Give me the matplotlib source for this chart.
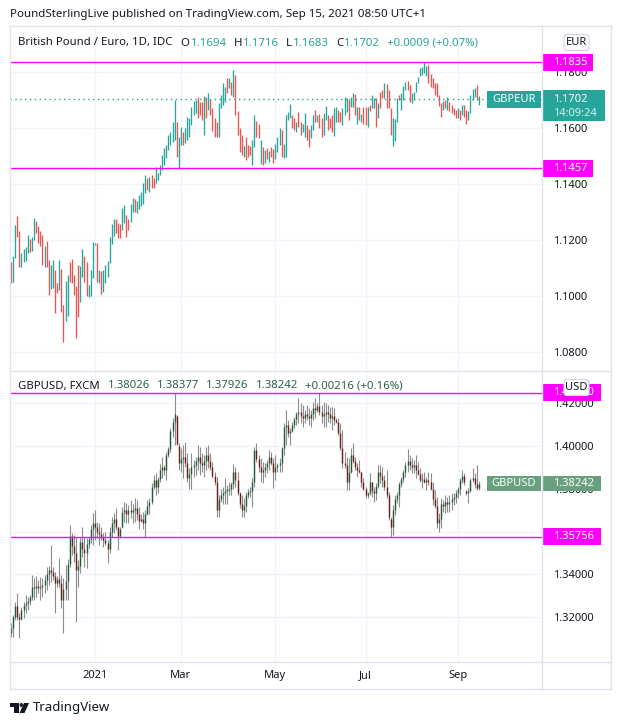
import numpy as np
import pandas as pd
import matplotlib
matplotlib.use('Agg')
import matplotlib.pyplot as plt
import matplotlib.transforms as mtransforms
from matplotlib.patches import Rectangle, FancyBboxPatch, Polygon, Circle
from matplotlib.lines import Line2D

plt.rcParams['font.family'] = ['Noto Sans', 'DejaVu Sans']

# daily bars, Nov 6 2020 .. Sep 15 2021
dates = pd.bdate_range('2020-11-06', periods=224)

# GBP/EUR (IDC) - bar highs / lows, 'u' = closed up, 'd' = closed down
eur_high = [
    1.1123, 1.1143, 1.1254, 1.1287, 1.1232, 1.1155, 1.1168, 1.1176, 1.1218, 1.1204,
    1.1212, 1.1278, 1.1268, 1.1250, 1.1232, 1.1218, 1.1180, 1.1197, 1.1129, 1.1111,
    1.1129, 1.1093, 1.1045, 1.1129, 1.1097, 1.0968, 1.1054, 1.1075, 1.1120, 1.1132,
    1.1075, 1.1036, 1.1111, 1.1107, 1.1168, 1.1144, 1.1123, 1.1040, 1.1093, 1.1192,
    1.1191, 1.1188, 1.1093, 1.1091, 1.1093, 1.1111, 1.1125, 1.1212, 1.1257, 1.1274,
    1.1274, 1.1260, 1.1257, 1.1313, 1.1325, 1.1289, 1.1275, 1.1330, 1.1349, 1.1345,
    1.1340, 1.1361, 1.1373, 1.1403, 1.1432, 1.1421, 1.1426, 1.1432, 1.1421, 1.1462,
    1.1438, 1.1468, 1.1504, 1.1528, 1.1540, 1.1575, 1.1587, 1.1623, 1.1700, 1.1623,
    1.1569, 1.1605, 1.1584, 1.1599, 1.1638, 1.1635, 1.1676, 1.1698, 1.1700, 1.1710,
    1.1694, 1.1694, 1.1714, 1.1710, 1.1724, 1.1703, 1.1670, 1.1635, 1.1623, 1.1688,
    1.1718, 1.1760, 1.1748, 1.1778, 1.1778, 1.1766, 1.1807, 1.1789, 1.1659, 1.1599,
    1.1575, 1.1534, 1.1569, 1.1540, 1.1536, 1.1557, 1.1646, 1.1625, 1.1614, 1.1557,
    1.1533, 1.1521, 1.1530, 1.1518, 1.1533, 1.1525, 1.1543, 1.1569, 1.1601, 1.1593,
    1.1543, 1.1646, 1.1658, 1.1684, 1.1646, 1.1637, 1.1620, 1.1656, 1.1622, 1.1616,
    1.1652, 1.1610, 1.1596, 1.1610, 1.1646, 1.1664, 1.1646, 1.1649, 1.1634, 1.1652,
    1.1678, 1.1646, 1.1634, 1.1646, 1.1670, 1.1674, 1.1664, 1.1658, 1.1670, 1.1712,
    1.1706, 1.1703, 1.1712, 1.1724, 1.1720, 1.1676, 1.1676, 1.1649, 1.1676, 1.1676,
    1.1676, 1.1682, 1.1718, 1.1706, 1.1706, 1.1688, 1.1730, 1.1736, 1.1760, 1.1756,
    1.1736, 1.1671, 1.1635, 1.1633, 1.1706, 1.1718, 1.1724, 1.1750, 1.1766, 1.1768,
    1.1754, 1.1724, 1.1730, 1.1766, 1.1781, 1.1813, 1.1819, 1.1835, 1.1822, 1.1825,
    1.1792, 1.1778, 1.1760, 1.1760, 1.1718, 1.1688, 1.1697, 1.1700, 1.1709, 1.1694,
    1.1682, 1.1673, 1.1665, 1.1671, 1.1665, 1.1682, 1.1682, 1.1665, 1.1661, 1.1718,
    1.1738, 1.1742, 1.1754, 1.1716]
eur_low = [
    1.1045, 1.1051, 1.1135, 1.1212, 1.1105, 1.1105, 1.1123, 1.1125, 1.1153, 1.1156,
    1.1159, 1.1200, 1.1224, 1.1188, 1.1180, 1.1111, 1.1105, 1.1105, 1.1004, 1.1025,
    1.1028, 1.0941, 1.1012, 1.1022, 1.0944, 1.0834, 1.0912, 1.0929, 1.1049, 1.1048,
    1.1004, 1.0849, 1.0926, 1.0980, 1.1069, 1.1051, 1.1000, 1.0998, 1.1001, 1.1066,
    1.1182, 1.1049, 1.1045, 1.1006, 1.1016, 1.1048, 1.1067, 1.1117, 1.1185, 1.1214,
    1.1226, 1.1206, 1.1206, 1.1236, 1.1262, 1.1212, 1.1236, 1.1265, 1.1300, 1.1300,
    1.1295, 1.1310, 1.1320, 1.1330, 1.1367, 1.1379, 1.1373, 1.1385, 1.1385, 1.1403,
    1.1415, 1.1432, 1.1450, 1.1468, 1.1492, 1.1522, 1.1540, 1.1551, 1.1557, 1.1498,
    1.1457, 1.1540, 1.1540, 1.1545, 1.1557, 1.1569, 1.1611, 1.1647, 1.1653, 1.1635,
    1.1647, 1.1629, 1.1575, 1.1635, 1.1664, 1.1647, 1.1591, 1.1569, 1.1569, 1.1569,
    1.1670, 1.1682, 1.1694, 1.1724, 1.1742, 1.1718, 1.1712, 1.1647, 1.1575, 1.1516,
    1.1504, 1.1498, 1.1486, 1.1498, 1.1503, 1.1468, 1.1533, 1.1569, 1.1563, 1.1470,
    1.1468, 1.1474, 1.1491, 1.1480, 1.1497, 1.1474, 1.1491, 1.1515, 1.1539, 1.1497,
    1.1494, 1.1497, 1.1628, 1.1634, 1.1601, 1.1593, 1.1587, 1.1605, 1.1575, 1.1587,
    1.1569, 1.1557, 1.1533, 1.1563, 1.1593, 1.1622, 1.1622, 1.1599, 1.1569, 1.1575,
    1.1628, 1.1593, 1.1599, 1.1587, 1.1572, 1.1622, 1.1622, 1.1622, 1.1610, 1.1646,
    1.1658, 1.1628, 1.1676, 1.1676, 1.1646, 1.1616, 1.1628, 1.1622, 1.1616, 1.1610,
    1.1605, 1.1661, 1.1671, 1.1671, 1.1605, 1.1635, 1.1671, 1.1706, 1.1706, 1.1671,
    1.1671, 1.1575, 1.1537, 1.1552, 1.1623, 1.1700, 1.1665, 1.1700, 1.1736, 1.1736,
    1.1694, 1.1688, 1.1700, 1.1730, 1.1760, 1.1784, 1.1790, 1.1796, 1.1784, 1.1760,
    1.1748, 1.1742, 1.1718, 1.1712, 1.1677, 1.1641, 1.1665, 1.1671, 1.1665, 1.1659,
    1.1653, 1.1647, 1.1635, 1.1635, 1.1629, 1.1647, 1.1641, 1.1613, 1.1629, 1.1653,
    1.1700, 1.1712, 1.1700, 1.1683]
eur_dir = ('duudduuuud' 'uudddduddu' 'uddudduudd' 'ddduudduuu' 'ududuuuuuu'
           'ddduudduud' 'uuuuududdu' 'uuuuuuuuud' 'uuduuuuuud' 'ddududdddu'
           'uuudududdd' 'duddduuddu' 'dududduuud' 'uuuudduddu' 'udduududdu'
           'uddduudduu' 'uduudududd' 'uduududdud' 'dduuuduuud' 'duuuuuuuud'
           'ddddddudud' 'dddududduu' 'uudu')
eur_last_ohlc = [1.1694, 1.1716, 1.1683, 1.1702]
eur_change = 0.0009
eur_change_pct = 0.07
eur_levels = [1.1835, 1.1457]
eur_ticks = [1.08, 1.10, 1.12, 1.14, 1.16, 1.18]

# GBP/USD (FXCM) - daily candles
usd_open = [
    1.3125, 1.3150, 1.3200, 1.3250, 1.3200, 1.3190, 1.3235, 1.3255, 1.3265, 1.3275,
    1.3295, 1.3340, 1.3335, 1.3345, 1.3335, 1.3340, 1.3350, 1.3375, 1.3400, 1.3420,
    1.3410, 1.3390, 1.3360, 1.3380, 1.3360, 1.3280, 1.3330, 1.3370, 1.3450, 1.3580,
    1.3530, 1.3500, 1.3420, 1.3440, 1.3550, 1.3520, 1.3500, 1.3540, 1.3565, 1.3610,
    1.3640, 1.3620, 1.3600, 1.3590, 1.3575, 1.3560, 1.3545, 1.3520, 1.3600, 1.3640,
    1.3660, 1.3620, 1.3580, 1.3620, 1.3690, 1.3700, 1.3680, 1.3700, 1.3690, 1.3700,
    1.3710, 1.3680, 1.3650, 1.3660, 1.3640, 1.3680, 1.3720, 1.3740, 1.3810, 1.3840,
    1.3810, 1.3845, 1.3890, 1.3900, 1.3890, 1.3960, 1.3985, 1.4070, 1.4110, 1.4140,
    1.4000, 1.3920, 1.3940, 1.3950, 1.3920, 1.3850, 1.3870, 1.3900, 1.3910, 1.3930,
    1.3950, 1.3920, 1.3910, 1.3930, 1.3960, 1.3930, 1.3900, 1.3860, 1.3830, 1.3700,
    1.3750, 1.3770, 1.3780, 1.3790, 1.3795, 1.3800, 1.3820, 1.3880, 1.3840, 1.3780,
    1.3730, 1.3700, 1.3720, 1.3770, 1.3785, 1.3790, 1.3830, 1.3980, 1.3940, 1.3900,
    1.3880, 1.3890, 1.3900, 1.3920, 1.3950, 1.3920, 1.3880, 1.3900, 1.3910, 1.3920,
    1.3990, 1.4090, 1.4100, 1.4060, 1.4070, 1.4100, 1.4125, 1.4150, 1.4160, 1.4140,
    1.4130, 1.4150, 1.4140, 1.4130, 1.4150, 1.4180, 1.4170, 1.4185, 1.4160, 1.4140,
    1.4150, 1.4160, 1.4150, 1.4130, 1.4140, 1.4120, 1.4110, 1.4060, 1.3990, 1.3920,
    1.3910, 1.3830, 1.3880, 1.3960, 1.3930, 1.3900, 1.3890, 1.3880, 1.3830, 1.3800,
    1.3770, 1.3780, 1.3830, 1.3790, 1.3780, 1.3815, 1.3880, 1.3860, 1.3840, 1.3810,
    1.3770, 1.3660, 1.3620, 1.3700, 1.3750, 1.3770, 1.3820, 1.3845, 1.3880, 1.3910,
    1.3930, 1.3910, 1.3900, 1.3910, 1.3890, 1.3870, 1.3840, 1.3845, 1.3830, 1.3840,
    1.3830, 1.3800, 1.3750, 1.3720, 1.3640, 1.3660, 1.3730, 1.3720, 1.3740, 1.3730,
    1.3740, 1.3750, 1.3760, 1.3780, 1.3800, 1.3840, 1.3860, 1.3790, 1.3780, 1.3790,
    1.3840, 1.3850, 1.3820, 1.38026]
usd_high = [
    1.3170, 1.3209, 1.3271, 1.3310, 1.3217, 1.3248, 1.3271, 1.3303, 1.3295, 1.3303,
    1.3396, 1.3381, 1.3392, 1.3373, 1.3385, 1.3381, 1.3396, 1.3435, 1.3438, 1.3537,
    1.3435, 1.3412, 1.3392, 1.3474, 1.3396, 1.3381, 1.3443, 1.3470, 1.3630, 1.3591,
    1.3583, 1.3576, 1.3466, 1.3576, 1.3622, 1.3576, 1.3568, 1.3576, 1.3630, 1.3685,
    1.3700, 1.3646, 1.3638, 1.3622, 1.3591, 1.3599, 1.3560, 1.3622, 1.3669, 1.3685,
    1.3708, 1.3622, 1.3622, 1.3716, 1.3739, 1.3732, 1.3724, 1.3747, 1.3731, 1.3755,
    1.3747, 1.3716, 1.3684, 1.3692, 1.3700, 1.3747, 1.3755, 1.3825, 1.3864, 1.3872,
    1.3856, 1.3918, 1.3950, 1.3911, 1.3973, 1.3996, 1.4082, 1.4129, 1.4248, 1.4145,
    1.4012, 1.3989, 1.4004, 1.4020, 1.3965, 1.3895, 1.3965, 1.3934, 1.3950, 1.4004,
    1.3996, 1.3965, 1.3957, 1.3996, 1.4004, 1.3965, 1.3926, 1.3879, 1.3856, 1.3770,
    1.3801, 1.3809, 1.3848, 1.3817, 1.3833, 1.3833, 1.3918, 1.3903, 1.3879, 1.3786,
    1.3770, 1.3755, 1.3786, 1.3801, 1.3810, 1.3849, 1.3997, 1.4012, 1.3958, 1.3942,
    1.3927, 1.3919, 1.3934, 1.3981, 1.3973, 1.3942, 1.3958, 1.3919, 1.3942, 1.3997,
    1.4106, 1.4168, 1.4122, 1.4083, 1.4114, 1.4137, 1.4161, 1.4223, 1.4200, 1.4192,
    1.4168, 1.4192, 1.4176, 1.4168, 1.4207, 1.4223, 1.4200, 1.4248, 1.4192, 1.4207,
    1.4200, 1.4192, 1.4184, 1.4184, 1.4176, 1.4129, 1.4129, 1.4106, 1.4075, 1.3973,
    1.3950, 1.3942, 1.3989, 1.4012, 1.3950, 1.3919, 1.3934, 1.3880, 1.3849, 1.3810,
    1.3786, 1.3872, 1.3833, 1.3810, 1.3825, 1.3911, 1.3911, 1.3903, 1.3864, 1.3888,
    1.3786, 1.3669, 1.3724, 1.3771, 1.3786, 1.3833, 1.3856, 1.3888, 1.3927, 1.3984,
    1.3958, 1.3942, 1.3934, 1.3958, 1.3927, 1.3895, 1.3872, 1.3880, 1.3856, 1.3880,
    1.3872, 1.3833, 1.3794, 1.3763, 1.3685, 1.3755, 1.3747, 1.3771, 1.3763, 1.3771,
    1.3778, 1.3778, 1.3794, 1.3810, 1.3849, 1.3888, 1.3872, 1.3794, 1.3802, 1.3849,
    1.3895, 1.3872, 1.3911, 1.38377]
usd_low = [
    1.3108, 1.3108, 1.3186, 1.3186, 1.3100, 1.3186, 1.3194, 1.3217, 1.3232, 1.3256,
    1.3279, 1.3279, 1.3295, 1.3310, 1.3279, 1.3295, 1.3310, 1.3326, 1.3349, 1.3365,
    1.3373, 1.3217, 1.3342, 1.3342, 1.3240, 1.3127, 1.3279, 1.3279, 1.3435, 1.3490,
    1.3459, 1.3178, 1.3342, 1.3404, 1.3482, 1.3435, 1.3427, 1.3521, 1.3544, 1.3537,
    1.3560, 1.3568, 1.3537, 1.3560, 1.3529, 1.3537, 1.3451, 1.3498, 1.3576, 1.3591,
    1.3607, 1.3513, 1.3568, 1.3615, 1.3646, 1.3638, 1.3638, 1.3661, 1.3638, 1.3645,
    1.3653, 1.3614, 1.3645, 1.3614, 1.35756, 1.3677, 1.3684, 1.3731, 1.3801, 1.3770,
    1.3778, 1.3833, 1.3848, 1.3864, 1.3840, 1.3950, 1.3973, 1.4043, 1.4004, 1.4004,
    1.3887, 1.3879, 1.3848, 1.3903, 1.3833, 1.3801, 1.3801, 1.3856, 1.3864, 1.3887,
    1.3864, 1.3879, 1.3856, 1.3887, 1.3895, 1.3887, 1.3848, 1.3817, 1.3669, 1.3669,
    1.3739, 1.3731, 1.3731, 1.3731, 1.3770, 1.3770, 1.3801, 1.3809, 1.3770, 1.3708,
    1.3669, 1.3669, 1.3692, 1.3755, 1.3763, 1.3716, 1.3810, 1.3927, 1.3880, 1.3833,
    1.3825, 1.3856, 1.3872, 1.3888, 1.3911, 1.3802, 1.3841, 1.3880, 1.3880, 1.3880,
    1.3958, 1.4005, 1.4044, 1.4005, 1.4067, 1.4083, 1.4098, 1.4106, 1.4106, 1.4090,
    1.4106, 1.4122, 1.4098, 1.4090, 1.4122, 1.4129, 1.4161, 1.4145, 1.4106, 1.4090,
    1.4090, 1.4114, 1.4106, 1.4075, 1.4098, 1.4106, 1.4051, 1.3981, 1.3895, 1.3895,
    1.3794, 1.3794, 1.3872, 1.3919, 1.3888, 1.3856, 1.3872, 1.3810, 1.3794, 1.3755,
    1.3755, 1.3771, 1.3763, 1.3739, 1.3747, 1.3802, 1.3825, 1.3810, 1.3794, 1.3755,
    1.3654, 1.35756, 1.3583, 1.3677, 1.3732, 1.3716, 1.3810, 1.3833, 1.3856, 1.3880,
    1.3888, 1.3872, 1.3872, 1.3849, 1.3864, 1.3833, 1.3802, 1.3825, 1.3794, 1.3817,
    1.3794, 1.3724, 1.3708, 1.3615, 1.3599, 1.3615, 1.3693, 1.3685, 1.3693, 1.3693,
    1.3700, 1.3724, 1.3732, 1.3755, 1.3771, 1.3825, 1.3817, 1.3771, 1.3732, 1.3786,
    1.3833, 1.3802, 1.3794, 1.37926]
usd_close = [
    1.3150, 1.3200, 1.3250, 1.3200, 1.3190, 1.3235, 1.3255, 1.3265, 1.3275, 1.3295,
    1.3340, 1.3335, 1.3345, 1.3335, 1.3340, 1.3350, 1.3375, 1.3400, 1.3420, 1.3410,
    1.3390, 1.3360, 1.3380, 1.3360, 1.3280, 1.3330, 1.3370, 1.3450, 1.3580, 1.3530,
    1.3500, 1.3420, 1.3440, 1.3550, 1.3520, 1.3500, 1.3540, 1.3565, 1.3610, 1.3640,
    1.3620, 1.3600, 1.3590, 1.3575, 1.3560, 1.3545, 1.3520, 1.3600, 1.3640, 1.3660,
    1.3620, 1.3580, 1.3610, 1.3690, 1.3700, 1.3680, 1.3700, 1.3690, 1.3700, 1.3710,
    1.3680, 1.3650, 1.3660, 1.3640, 1.3680, 1.3720, 1.3740, 1.3810, 1.3840, 1.3810,
    1.3845, 1.3890, 1.3900, 1.3890, 1.3960, 1.3985, 1.4070, 1.4110, 1.4150, 1.4010,
    1.3920, 1.3940, 1.3950, 1.3920, 1.3850, 1.3870, 1.3900, 1.3910, 1.3930, 1.3950,
    1.3920, 1.3910, 1.3930, 1.3960, 1.3930, 1.3900, 1.3860, 1.3830, 1.3700, 1.3750,
    1.3770, 1.3780, 1.3790, 1.3800, 1.3800, 1.3820, 1.3880, 1.3840, 1.3780, 1.3730,
    1.3700, 1.3720, 1.3770, 1.3785, 1.3790, 1.3830, 1.3980, 1.3940, 1.3900, 1.3880,
    1.3890, 1.3900, 1.3920, 1.3950, 1.3920, 1.3880, 1.3900, 1.3910, 1.3920, 1.3990,
    1.4090, 1.4100, 1.4060, 1.4070, 1.4100, 1.4125, 1.4150, 1.4160, 1.4140, 1.4130,
    1.4150, 1.4140, 1.4130, 1.4150, 1.4180, 1.4170, 1.4185, 1.4160, 1.4140, 1.4150,
    1.4160, 1.4150, 1.4130, 1.4140, 1.4120, 1.4110, 1.4060, 1.3990, 1.3920, 1.3910,
    1.3830, 1.3880, 1.3960, 1.3930, 1.3900, 1.3890, 1.3880, 1.3830, 1.3800, 1.3770,
    1.3780, 1.3830, 1.3790, 1.3780, 1.3815, 1.3880, 1.3860, 1.3840, 1.3810, 1.3770,
    1.3670, 1.3620, 1.3700, 1.3750, 1.3770, 1.3820, 1.3845, 1.3880, 1.3910, 1.3930,
    1.3910, 1.3900, 1.3910, 1.3890, 1.3870, 1.3840, 1.3845, 1.3830, 1.3840, 1.3830,
    1.3800, 1.3750, 1.3720, 1.3640, 1.3660, 1.3730, 1.3720, 1.3740, 1.3730, 1.3740,
    1.3750, 1.3760, 1.3780, 1.3800, 1.3840, 1.3860, 1.3830, 1.3780, 1.3790, 1.3840,
    1.3850, 1.3820, 1.38026, 1.38242]
usd_levels = [1.42480, 1.35756]
usd_ticks = [1.32, 1.34, 1.36, 1.38, 1.40, 1.42]
countdown = '14:09:24'

GREEN = '#26a69a'
RED = '#ef5350'
MAG = '#ff00ff'
TXT = '#131722'
GRID = '#f0f3fa'
BORDER = '#e0e3eb'
USDTAG = '#6a9f80'
USDVAL = '#2f5f43'

W, H = 620, 725
fig = plt.figure(figsize=(W / 100, H / 100), dpi=100)


def fx(px):
    return px / W


def fy(py):
    return 1 - py / H


def rect(x0, y0, x1, y1):
    return [fx(x0), fy(y1), (x1 - x0) / W, (y1 - y0) / H]


PL, PR, FR = 9.5, 542, 611
ax1 = fig.add_axes(rect(PL, 26, PR, 370))
ax2 = fig.add_axes(rect(PL, 371, PR, 662))

x = np.arange(len(dates))

# GBPEUR bars
up = np.array([ch == 'u' for ch in eur_dir])
eh, el = np.array(eur_high), np.array(eur_low)
ax1.vlines(x[up], el[up], eh[up], color=GREEN, lw=0.95)
ax1.vlines(x[~up], el[~up], eh[~up], color=RED, lw=0.95)

# GBPUSD candles
uo, uc = np.array(usd_open), np.array(usd_close)
ax2.vlines(x, usd_low, usd_high, color='#8c8c8c', lw=0.8)
ub = uc >= uo
ax2.vlines(x[ub], uo[ub], uc[ub], color='#1f5c38', lw=1.0)
ax2.vlines(x[~ub], uc[~ub], uo[~ub], color='#6e1d1d', lw=1.0)

# month ticks
starts = [i for i in range(1, len(dates))
          if dates[i].month != dates[i - 1].month and dates[i].month % 2 == 1]
mlabels = ['2021' if dates[i].month == 1 else dates[i].strftime('%b') for i in starts]

for ax, ticks, fmt, ylim in [(ax1, eur_ticks, '{:.4f}', (1.07357, 1.19643)),
                             (ax2, usd_ticks, '{:.5f}', (1.29895, 1.43509))]:
    ax.set_xlim(-0.715, 253.1)
    ax.set_ylim(*ylim)
    ax.set_yticks(ticks)
    ax.set_yticklabels([fmt.format(t) for t in ticks])
    ax.yaxis.tick_right()
    ax.tick_params(axis='y', length=0, pad=8, labelsize=8, labelcolor=TXT)
    ax.set_xticks(starts)
    ax.grid(True, color=GRID, lw=1)
    ax.set_axisbelow(True)
    for s in ax.spines.values():
        s.set_visible(False)
ax1.tick_params(axis='x', length=0, labelbottom=False)
ax2.set_xticklabels(mlabels)
ax2.tick_params(axis='x', length=0, pad=5.5, labelsize=8, labelcolor=TXT)
ax2.get_xticklabels()[0].set_fontweight('bold')


def tag(ax, y, text, fc, w, h, x0=1.0, tc='white', center=False, dy_top=None):
    tr = mtransforms.blended_transform_factory(ax.transAxes, ax.transData)
    axw = ax.get_position().width * W
    axh = ax.get_position().height * H
    y0, y1 = ax.get_ylim()
    k = (y1 - y0) / axh
    top = (dy_top if dy_top is not None else h / 2) * k
    ax.add_patch(Rectangle((x0, y - (h * k - top)), w / axw, h * k, transform=tr,
                           fc=fc, ec='none', clip_on=False, zorder=10))
    if center:
        ax.text(x0 + w / axw / 2, y, text, transform=tr, ha='center', va='center',
                color=tc, fontsize=8, clip_on=False, zorder=11)
    else:
        ax.text(x0 + 11 / axw, y, text, transform=tr, ha='left', va='center',
                color=tc, fontsize=8, clip_on=False, zorder=11)
    return k


# horizontal levels
for lv in eur_levels:
    ax1.axhline(lv, color=MAG, lw=1, zorder=3)
    tag(ax1, lv, f'{lv:.4f}', MAG, 51, 17)
for lv in usd_levels:
    ax2.axhline(lv, color=MAG, lw=1, zorder=3)
    tag(ax2, lv, f'{lv:.5f}', MAG, 59, 17)

# last price GBPEUR
last = eur_last_ohlc[3]
ax1.axhline(last, color=GREEN, lw=1, ls=(0, (1, 2.5)), zorder=3)
axw1 = ax1.get_position().width * W
tag(ax1, last, 'GBPEUR', GREEN, 54, 17, x0=(487 - PL) / axw1, center=True)
k1 = tag(ax1, last, f'{last:.4f}', GREEN, 63, 31, dy_top=9)
tr1 = mtransforms.blended_transform_factory(ax1.transAxes, ax1.transData)
ax1.text(1.0 + 11 / axw1, last - 14 * k1, countdown, transform=tr1, ha='left',
         va='center', color='#d5efec', fontsize=8, clip_on=False, zorder=11)

# last price GBPUSD
axw2 = ax2.get_position().width * W
tag(ax2, usd_close[-1], 'GBPUSD', USDTAG, 54, 15, x0=(487 - PL) / axw2, center=True)
tag(ax2, usd_close[-1], f'{usd_close[-1]:.5f}', USDTAG, 59, 15)


# frame lines
def fline(x0, y0, x1, y1):
    fig.add_artist(Line2D([fx(x0), fx(x1)], [fy(y0), fy(y1)], color=BORDER, lw=1,
                          transform=fig.transFigure, zorder=1))


fline(PL, 26, FR, 26)
fline(PL, 689, FR, 689)
fline(PL, 26, PL, 689)
fline(FR, 26, FR, 689)
fline(PR, 26, PR, 689)
fline(PL, 370.5, FR, 370.5)
fline(PL, 662, FR, 662)

# currency buttons
for yc, s in [(42.5, 'EUR'), (387.5, 'USD')]:
    fig.add_artist(FancyBboxPatch((fx(564), fy(yc + 8)), 25 / W, 16 / H,
                                  boxstyle='round,pad=0,rounding_size=0.004',
                                  transform=fig.transFigure, fc='white', ec='#d1d4dc',
                                  lw=0.8, zorder=5))
    fig.text(fx(576.5), fy(yc), s, ha='center', va='center', fontsize=8,
             color=TXT, zorder=6)

# header and legends
fig.text(fx(10), fy(15), 'PoundSterlingLive published on TradingView.com, '
         'Sep 15, 2021 08:50 UTC+1', fontsize=8.3, color=TXT, va='center')

renderer = fig.canvas.get_renderer()


def text_row(x_px, y_px, parts, size=8.2):
    xc = x_px
    for s, col, gap in parts:
        xc += gap
        t = fig.text(fx(xc), fy(y_px), s, color=col, fontsize=size, va='baseline',
                     ha='left', zorder=6)
        xc += t.get_window_extent(renderer).width


eo, ehi, elo, ec = eur_last_ohlc
text_row(18, 45.5, [('British Pound / Euro, 1D, IDC', TXT, 0),
                    ('O', TXT, 8), (f'{eo:.4f}', GREEN, 1),
                    ('H', TXT, 7), (f'{ehi:.4f}', GREEN, 1),
                    ('L', TXT, 7), (f'{elo:.4f}', GREEN, 1),
                    ('C', TXT, 7), (f'{ec:.4f}', GREEN, 1),
                    (f'{eur_change:+.4f} ({eur_change_pct:+.2f}%)', GREEN, 7)])

uchg = usd_close[-1] - usd_close[-2]
text_row(18, 388.5, [('GBPUSD, FXCM', TXT, 0),
                     (f'{usd_open[-1]:.5f}', USDVAL, 8),
                     (f'{usd_high[-1]:.5f}', USDVAL, 7),
                     (f'{usd_low[-1]:.5f}', USDVAL, 7),
                     (f'{usd_close[-1]:.5f}', USDVAL, 7),
                     (f'{uchg:+.5f} ({uchg / usd_close[-2] * 100:+.2f}%)', USDVAL, 7)])


# TradingView logo
def pxpoly(pts):
    return [(fx(a), fy(b)) for a, b in pts]


for pts in [[(9.5, 703), (18.5, 703), (18.5, 706.5), (9.5, 706.5)],
            [(14, 703), (18.5, 703), (18.5, 713), (14, 713)],
            [(24, 703), (29, 703), (24.5, 713), (19.5, 713)]]:
    fig.add_artist(Polygon(pxpoly(pts), closed=True, fc=TXT, ec='none',
                           transform=fig.transFigure))
fig.add_artist(Circle((fx(21.3), fy(705)), 1.7 / W, fc=TXT, ec='none',
                      transform=fig.transFigure))
fig.text(fx(33), fy(708), 'TradingView', fontsize=9.5, color=TXT, va='center')

fig.savefig('out.png', dpi=100)
